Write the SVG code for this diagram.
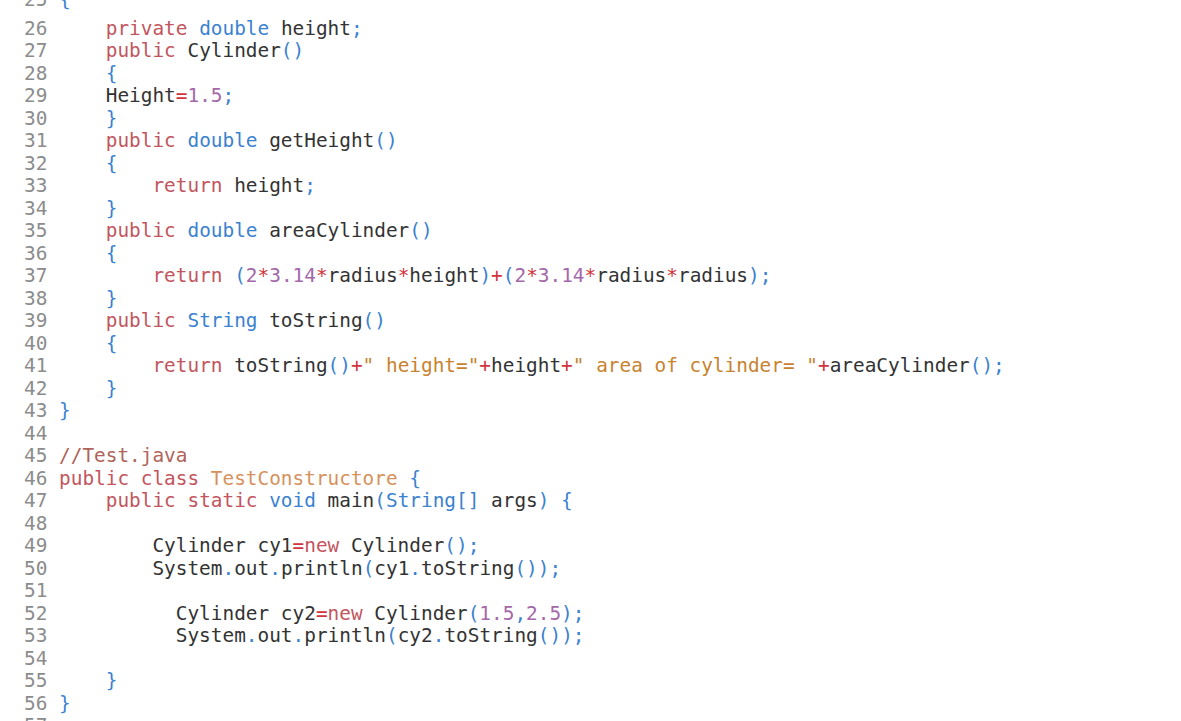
<svg xmlns="http://www.w3.org/2000/svg" width="1181" height="721" viewBox="0 0 1181 721">
<style>
text{font-family:"DejaVu Sans Mono",monospace;font-size:19.4px;white-space:pre;fill:#333}
.n{fill:#8c8c8c}
.k{fill:#c2555e}
.t{fill:#3b82cf}
.p{fill:#3b82cf}
.o{fill:#d1343c}
.num{fill:#a468a8}
.s{fill:#c8832e}
.c{fill:#b0645a}
.cl{fill:#d5925d}
</style>
<rect width="1181" height="721" fill="#fff"/>
<g id="code" xml:space="preserve">
<text x="24" y="6"><tspan class="n">25</tspan> <tspan class="p">{</tspan></text>
<text x="24" y="34.5"><tspan class="n">26</tspan>     <tspan class="k">private</tspan> <tspan class="t">double</tspan> height<tspan class="p">;</tspan></text>
<text x="24" y="57"><tspan class="n">27</tspan>     <tspan class="k">public</tspan> Cylinder<tspan class="p">()</tspan></text>
<text x="24" y="79.5"><tspan class="n">28</tspan>     <tspan class="p">{</tspan></text>
<text x="24" y="102"><tspan class="n">29</tspan>     Height<tspan class="o">=</tspan><tspan class="num">1.5</tspan><tspan class="p">;</tspan></text>
<text x="24" y="124.5"><tspan class="n">30</tspan>     <tspan class="p">}</tspan></text>
<text x="24" y="147"><tspan class="n">31</tspan>     <tspan class="k">public</tspan> <tspan class="t">double</tspan> getHeight<tspan class="p">()</tspan></text>
<text x="24" y="169.5"><tspan class="n">32</tspan>     <tspan class="p">{</tspan></text>
<text x="24" y="192"><tspan class="n">33</tspan>         <tspan class="k">return</tspan> height<tspan class="p">;</tspan></text>
<text x="24" y="214.5"><tspan class="n">34</tspan>     <tspan class="p">}</tspan></text>
<text x="24" y="237"><tspan class="n">35</tspan>     <tspan class="k">public</tspan> <tspan class="t">double</tspan> areaCylinder<tspan class="p">()</tspan></text>
<text x="24" y="259.5"><tspan class="n">36</tspan>     <tspan class="p">{</tspan></text>
<text x="24" y="282"><tspan class="n">37</tspan>         <tspan class="k">return</tspan> <tspan class="p">(</tspan><tspan class="num">2</tspan><tspan class="o">*</tspan><tspan class="num">3.14</tspan><tspan class="o">*</tspan>radius<tspan class="o">*</tspan>height<tspan class="p">)</tspan><tspan class="o">+</tspan><tspan class="p">(</tspan><tspan class="num">2</tspan><tspan class="o">*</tspan><tspan class="num">3.14</tspan><tspan class="o">*</tspan>radius<tspan class="o">*</tspan>radius<tspan class="p">);</tspan></text>
<text x="24" y="304.5"><tspan class="n">38</tspan>     <tspan class="p">}</tspan></text>
<text x="24" y="327"><tspan class="n">39</tspan>     <tspan class="k">public</tspan> <tspan class="t">String</tspan> toString<tspan class="p">()</tspan></text>
<text x="24" y="349.5"><tspan class="n">40</tspan>     <tspan class="p">{</tspan></text>
<text x="24" y="372"><tspan class="n">41</tspan>         <tspan class="k">return</tspan> toString<tspan class="p">()</tspan><tspan class="o">+</tspan><tspan class="s">" height="</tspan><tspan class="o">+</tspan>height<tspan class="o">+</tspan><tspan class="s">" area of cylinder= "</tspan><tspan class="o">+</tspan>areaCylinder<tspan class="p">();</tspan></text>
<text x="24" y="394.5"><tspan class="n">42</tspan>     <tspan class="p">}</tspan></text>
<text x="24" y="417"><tspan class="n">43</tspan> <tspan class="p">}</tspan></text>
<text x="24" y="439.5"><tspan class="n">44</tspan></text>
<text x="24" y="462"><tspan class="n">45</tspan> <tspan class="c">//Test.java</tspan></text>
<text x="24" y="484.5"><tspan class="n">46</tspan> <tspan class="k">public class</tspan> <tspan class="cl">TestConstructore</tspan> <tspan class="p">{</tspan></text>
<text x="24" y="507"><tspan class="n">47</tspan>     <tspan class="k">public static</tspan> <tspan class="t">void</tspan> main<tspan class="p">(</tspan><tspan class="t">String</tspan><tspan class="p">[]</tspan> args<tspan class="p">) {</tspan></text>
<text x="24" y="529.5"><tspan class="n">48</tspan></text>
<text x="24" y="552"><tspan class="n">49</tspan>         Cylinder cy1<tspan class="o">=</tspan><tspan class="k">new</tspan> Cylinder<tspan class="p">();</tspan></text>
<text x="24" y="574.5"><tspan class="n">50</tspan>         System<tspan class="p">.</tspan>out<tspan class="p">.</tspan>println<tspan class="p">(</tspan>cy1<tspan class="p">.</tspan>toString<tspan class="p">());</tspan></text>
<text x="24" y="597"><tspan class="n">51</tspan></text>
<text x="24" y="619.5"><tspan class="n">52</tspan>           Cylinder cy2<tspan class="o">=</tspan><tspan class="k">new</tspan> Cylinder<tspan class="p">(</tspan><tspan class="num">1.5</tspan><tspan class="p">,</tspan><tspan class="num">2.5</tspan><tspan class="p">);</tspan></text>
<text x="24" y="642"><tspan class="n">53</tspan>           System<tspan class="p">.</tspan>out<tspan class="p">.</tspan>println<tspan class="p">(</tspan>cy2<tspan class="p">.</tspan>toString<tspan class="p">());</tspan></text>
<text x="24" y="664.5"><tspan class="n">54</tspan></text>
<text x="24" y="687"><tspan class="n">55</tspan>     <tspan class="p">}</tspan></text>
<text x="24" y="709.5"><tspan class="n">56</tspan> <tspan class="p">}</tspan></text>
<text x="24" y="732"><tspan class="n">57</tspan></text>
</g>
</svg>
